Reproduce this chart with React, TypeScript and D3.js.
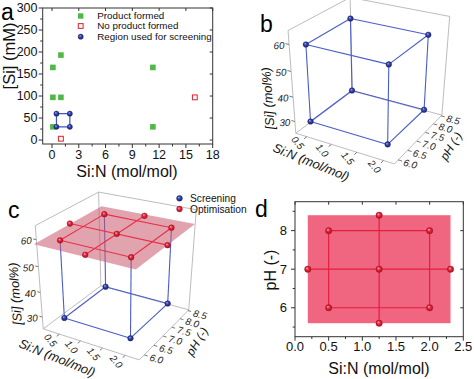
import React from 'react';
import * as d3 from 'd3';

const FONT = "'Liberation Sans', Arial, Helvetica, sans-serif";

// ---------- Panel a data ----------
const productSiN = [0.1, 0.1, 0.1, 1.0, 1.0, 11.3, 11.3];
const productSi = [165, 97, 30, 193, 97, 165, 30];
const noProductSiN = [1.0, 16.0];
const noProductSi = [3, 97];
const regionSiN = [0.5, 2.0, 2.0, 0.5];
const regionSi = [30, 30, 60, 60];
const aXTicks = [0, 3, 6, 9, 12, 15, 18];
const aYTicks = [0, 50, 100, 150, 200, 250, 300];
const legendA = ['Product formed', 'No product formed', 'Region used for screening'];

// ---------- Screening cube (b, c) ----------
const screenSiN = [0.5, 2.0];
const screenPH = [6, 8];
const screenSi = [30, 60];

// ---------- Optimisation design (c, d) ----------
const optSiN = [0.5, 2.0, 2.0, 0.5, 0.19, 2.31, 1.25, 1.25, 1.25];
const optPH = [6, 6, 8, 8, 7, 7, 5.6, 8.4, 7];
const optSiLevel = 60;
const planeSiN = [0.19, 2.31];
const planePH = [5.5, 8.5];

const siNTicks3D = [0.5, 1.0, 1.5, 2.0];
const pHTicks3D = [6.0, 6.5, 7.0, 7.5, 8.0, 8.5];
const siTicks3D = [30, 40, 50, 60];

const dXTicks = [0, 0.5, 1.0, 1.5, 2.0, 2.5];
const dYTicks = [6, 7, 8];
const legendC = ['Screening', 'Optimisation'];

type V2 = [number, number];
interface Cam { o: V2; eu: V2; ev: V2; ew: V2; box: { siN: number[]; pH: number[]; si: number[] } }
const PERSP = [0.059, -0.096, 0.075];

const camB: Cam = { o: [309.4, 122.3], eu: [77.5, 19.6], ev: [40.5, -30.3], ew: [-0.2, -76], box: { siN: [0.27, 2.2], pH: [5.8, 8.55], si: [25, 65] } };
const camC: Cam = { o: [63.35, 318.8], eu: [66.6, 16.9], ev: [40.75, -30.4], ew: [-0.25, -76.75], box: { siN: [0.1, 2.3], pH: [5.75, 8.55], si: [25, 65] } };

function makeProj(cam: Cam) {
  const su = d3.scaleLinear().domain(screenSiN).range([0, 1]);
  const sv = d3.scaleLinear().domain(screenPH).range([0, 1]);
  const sw = d3.scaleLinear().domain(screenSi).range([0, 1]);
  const cx = cam.o[0] + 0.5 * (cam.eu[0] + cam.ev[0] + cam.ew[0]);
  const cy = cam.o[1] + 0.5 * (cam.eu[1] + cam.ev[1] + cam.ew[1]);
  return (a: number, b: number, c: number): V2 => {
    const u = su(a), v = sv(b), w = sw(c);
    const x = cam.o[0] + u * cam.eu[0] + v * cam.ev[0] + w * cam.ew[0];
    const y = cam.o[1] + u * cam.eu[1] + v * cam.ev[1] + w * cam.ew[1];
    const s = 1 + PERSP[0] * (u - 0.5) + PERSP[1] * (v - 0.5) + PERSP[2] * (w - 0.5);
    return [cx + s * (x - cx), cy + s * (y - cy)];
  };
}

const Sphere = ({ p, r, color }: { p: V2; r: number; color: 'blue' | 'red' }) => (
  <circle cx={p[0]} cy={p[1]} r={r} fill={`url(#sph-${color})`} stroke={color === 'blue' ? '#1c2468' : '#a8142a'} strokeWidth={0.4} />
);

const Seg = ({ a, b, stroke, w = 1 }: { a: V2; b: V2; stroke: string; w?: number }) => (
  <line x1={a[0]} y1={a[1]} x2={b[0]} y2={b[1]} stroke={stroke} strokeWidth={w} />
);

function Axes3D({ proj, box }: { proj: (a: number, b: number, c: number) => V2; box: Cam['box'] }) {
  const [s0, s1] = box.siN, [p0, p1] = box.pH, [z0, z1] = box.si;
  const P = (i: number, j: number, k: number) => proj(i ? s1 : s0, j ? p1 : p0, k ? z1 : z0);
  const edges = [
    [0, 0, 0, 1, 0, 0], [1, 0, 0, 1, 1, 0], [1, 1, 0, 0, 1, 0], [0, 1, 0, 0, 0, 0],
    [0, 0, 0, 0, 0, 1], [0, 0, 1, 0, 1, 1], [0, 1, 1, 0, 1, 0],
    [0, 1, 1, 1, 1, 1], [1, 1, 1, 1, 1, 0],
  ];
  const grey = '#b4b4b4';
  const tstyle = { fontFamily: FONT, fontSize: 9.8, fontStyle: 'italic' as const, fill: '#222' };
  const tt = { fontFamily: FONT, fontSize: 12.8, fontStyle: 'italic' as const, fill: '#111' };
  const midS = proj((s0 + s1) / 2, p0, z0);
  const midP = proj(s1, (p0 + p1) / 2, z0);
  const midZ = proj(s0, p0, (z0 + z1) / 2);
  return (
    <g>
      {edges.map((e, i) => <Seg key={i} a={P(e[0], e[1], e[2])} b={P(e[3], e[4], e[5])} stroke={grey} w={0.9} />)}
      {siNTicks3D.map((t) => {
        const a = proj(t, p0, z0), b = proj(t, p0 - 0.12, z0);
        return (
          <g key={'s' + t}>
            <Seg a={a} b={b} stroke="#555" w={0.8} />
            <text transform={`translate(${a[0] - 9},${a[1] + 6}) rotate(50)`} textAnchor="middle" dy="0.35em" style={tstyle}>{t.toFixed(1)}</text>
          </g>
        );
      })}
      {pHTicks3D.map((t) => {
        const a = proj(s1, t, z0), b = proj(s1 + 0.07, t, z0);
        return (
          <g key={'p' + t}>
            <Seg a={a} b={b} stroke="#555" w={0.8} />
            <text transform={`translate(${a[0] + 12},${a[1] + 4}) rotate(15)`} textAnchor="middle" dy="0.35em" style={tstyle}>{t.toFixed(1)}</text>
          </g>
        );
      })}
      {siTicks3D.map((t) => {
        const base = proj(s0, p0, t);
        const b = proj(s0 - 0.07, p0, t);
        return (
          <g key={'z' + t}>
            <Seg a={base} b={b} stroke="#555" w={0.8} />
            <text transform={`translate(${base[0] - 10},${base[1] + 1}) rotate(-4)`} textAnchor="middle" dy="0.35em" style={tstyle}>{t}</text>
          </g>
        );
      })}
      <text transform={`translate(${midS[0] - 32},${midS[1] + 14}) rotate(22)`} textAnchor="middle" dy="0.35em" style={tt}>Si:N (mol/mol)</text>
      <text transform={`translate(${midP[0] + 31},${midP[1] + 8}) rotate(-58)`} textAnchor="middle" dy="0.35em" style={{ ...tt, fontSize: 12 }}>pH (-)</text>
      <text transform={`translate(${midZ[0] - 24},${midZ[1] + 14}) rotate(-94)`} textAnchor="middle" dy="0.35em" style={tt}>[Si] (mol%)</text>
    </g>
  );
}

function cubeCorners(xs: number[], ys: number[], zs: number[]) {
  const out: number[][] = [];
  for (const x of xs) for (const y of ys) for (const z of zs) out.push([x, y, z]);
  return out;
}
function cubeEdges(xs: number[], ys: number[], zs: number[]) {
  const c = cubeCorners(xs, ys, zs);
  const e: number[][][] = [];
  for (let i = 0; i < c.length; i++)
    for (let j = i + 1; j < c.length; j++) {
      let d = 0;
      for (let k = 0; k < 3; k++) if (c[i][k] !== c[j][k]) d++;
      if (d === 1) e.push([c[i], c[j]]);
    }
  return e;
}

function PanelA() {
  const x = d3.scaleLinear().domain([-1.04, 18]).range([42.7, 212.7]);
  const y = d3.scaleLinear().domain([-9, 300]).range([144, 8]);
  const tick = { fontFamily: FONT, fontSize: 12.5, fill: '#111' };
  const xMinor = d3.range(1.5, 18, 3);
  const yMinor = d3.range(25, 300, 50);
  const regionPts = regionSiN.map((s, i) => [x(s), y(regionSi[i])] as V2);
  const poly = d3.line()([...regionPts, regionPts[0]]);
  return (
    <g>
      <rect x={42.7} y={8} width={170} height={136} fill="none" stroke="#333" strokeWidth={1} />
      {aXTicks.map((t) => (
        <g key={t}>
          <line x1={x(t)} x2={x(t)} y1={144} y2={148} stroke="#333" />
          <line x1={x(t)} x2={x(t)} y1={8} y2={11} stroke="#333" />
          <text x={x(t)} y={159.2} textAnchor="middle" style={tick}>{t}</text>
        </g>
      ))}
      {xMinor.map((t) => <line key={t} x1={x(t)} x2={x(t)} y1={144} y2={146.5} stroke="#333" />)}
      {aYTicks.map((t) => (
        <g key={t}>
          <line x1={38.7} x2={42.7} y1={y(t)} y2={y(t)} stroke="#333" />
          <line x1={209.7} x2={212.7} y1={y(t)} y2={y(t)} stroke="#333" />
          <text x={37.5} y={y(t)} dy="0.35em" textAnchor="end" style={tick}>{t}</text>
        </g>
      ))}
      {yMinor.map((t) => <line key={t} x1={40.2} x2={42.7} y1={y(t)} y2={y(t)} stroke="#333" />)}
      <text x={127} y={177} textAnchor="middle" style={{ fontFamily: FONT, fontSize: 16, fill: '#111' }}>Si:N (mol/mol)</text>
      <text transform="translate(9.5,56) rotate(-90)" textAnchor="middle" dy="0.35em" style={{ fontFamily: FONT, fontSize: 16.5, fill: '#111' }}>[Si] (mM)</text>
      {productSiN.map((s, i) => (
        <rect key={i} x={x(s) - 2.8} y={y(productSi[i]) - 2.8} width={5.6} height={5.6} fill="#4fb848" />
      ))}
      {noProductSiN.map((s, i) => (
        <rect key={i} x={x(s) - 2.4} y={y(noProductSi[i]) - 2.4} width={4.8} height={4.8} fill="#fff" stroke="#e0303c" strokeWidth={1.1} />
      ))}
      <path d={poly || ''} fill="none" stroke="#3d55c4" strokeWidth={1.2} />
      {regionPts.map((p, i) => <Sphere key={i} p={p} r={2.6} color="blue" />)}
      <rect x={78} y={13.3} width={5.4} height={5.4} fill="#4fb848" />
      <rect x={78.3} y={23.6} width={4.8} height={4.8} fill="#fff" stroke="#e0303c" strokeWidth={1.1} />
      <Sphere p={[80.7, 36.7]} r={2.6} color="blue" />
      {legendA.map((l, i) => (
        <text key={l} x={97.3} y={[16, 26, 36.7][i]} dy="0.35em" style={{ fontFamily: FONT, fontSize: 9.8, fill: '#111' }}>{l}</text>
      ))}
    </g>
  );
}

function PanelB() {
  const proj = makeProj(camB);
  const edges = cubeEdges(screenSiN, screenPH, screenSi);
  const corners = cubeCorners(screenSiN, screenPH, screenSi);
  return (
    <g>
      <Axes3D proj={proj} box={camB.box} />
      {edges.map((e, i) => <Seg key={i} a={proj(e[0][0], e[0][1], e[0][2])} b={proj(e[1][0], e[1][1], e[1][2])} stroke="#4a5cc8" w={1.1} />)}
      {corners.map((c, i) => <Sphere key={i} p={proj(c[0], c[1], c[2])} r={2.8} color="blue" />)}
    </g>
  );
}

function PanelC() {
  const proj = makeProj(camC);
  const base = cubeCorners(screenSiN, screenPH, [screenSi[0]]);
  const baseEdges = cubeEdges(screenSiN, screenPH, [screenSi[0]]);
  const topRect = cubeEdges(screenSiN, screenPH, [optSiLevel]);
  const plane = [
    proj(planeSiN[0], planePH[0], optSiLevel), proj(planeSiN[1], planePH[0], optSiLevel),
    proj(planeSiN[1], planePH[1], optSiLevel), proj(planeSiN[0], planePH[1], optSiLevel),
  ];
  const ph7 = optSiN.filter((_, i) => optPH[i] === 7);
  const sn125 = optPH.filter((_, i) => optSiN[i] === 1.25);
  const crossH = d3.extent(ph7) as number[];
  const crossV = d3.extent(sn125) as number[];
  const red = '#e8304a';
  return (
    <g>
      <Axes3D proj={proj} box={camC.box} />
      {baseEdges.map((e, i) => <Seg key={i} a={proj(e[0][0], e[0][1], e[0][2])} b={proj(e[1][0], e[1][1], e[1][2])} stroke="#4a5cc8" w={1.1} />)}
      {base.map((c, i) => <Seg key={'v' + i} a={proj(c[0], c[1], c[2])} b={proj(c[0], c[1], optSiLevel)} stroke="#4a5cc8" w={1.1} />)}
      {base.map((c, i) => <Sphere key={'b' + i} p={proj(c[0], c[1], c[2])} r={2.8} color="blue" />)}
      <path d={(d3.line()([...plane, plane[0]]) || '') + 'Z'} fill="#c95a6c" fillOpacity={0.55} stroke="none" />
      {topRect.map((e, i) => <Seg key={'t' + i} a={proj(e[0][0], e[0][1], e[0][2])} b={proj(e[1][0], e[1][1], e[1][2])} stroke={red} w={1.1} />)}
      <Seg a={proj(crossH[0], 7, optSiLevel)} b={proj(crossH[1], 7, optSiLevel)} stroke={red} w={1.1} />
      <Seg a={proj(1.25, crossV[0], optSiLevel)} b={proj(1.25, crossV[1], optSiLevel)} stroke={red} w={1.1} />
      {optSiN.map((s, i) => <Sphere key={'o' + i} p={proj(s, optPH[i], optSiLevel)} r={2.9} color="red" />)}
      <Sphere p={[179.5, 198.3]} r={2.9} color="blue" />
      <Sphere p={[179.5, 209]} r={2.9} color="red" />
      {legendC.map((l, i) => (
        <text key={l} x={190} y={[198.3, 209][i]} dy="0.35em" style={{ fontFamily: FONT, fontSize: 10.2, fill: '#111' }}>{l}</text>
      ))}
    </g>
  );
}

function PanelD() {
  const x = d3.scaleLinear().domain([0, 2.5]).range([295, 463.3]);
  const y = d3.scaleLinear().domain([5.25, 8.75]).range([336.7, 201.7]);
  const tick = { fontFamily: FONT, fontSize: 13, fill: '#111' };
  const [sMin, sMax] = d3.extent(optSiN) as number[];
  const [pMin, pMax] = d3.extent(optPH) as number[];
  const red = '#e41e3c';
  const rectC = cubeEdges(screenSiN, screenPH, [0]);
  const ph7 = optSiN.filter((_, i) => optPH[i] === 7);
  const sn125 = optPH.filter((_, i) => optSiN[i] === 1.25);
  const crossH = d3.extent(ph7) as number[];
  const crossV = d3.extent(sn125) as number[];
  const xMinor = d3.range(0.25, 2.5, 0.5);
  const yMinor = d3.range(5.5, 8.75, 1);
  return (
    <g>
      <rect x={x(sMin)} y={y(pMax)} width={x(sMax) - x(sMin)} height={y(pMin) - y(pMax)} fill="#f06680" />
      {rectC.map((e, i) => <Seg key={i} a={[x(e[0][0]), y(e[0][1])]} b={[x(e[1][0]), y(e[1][1])]} stroke={red} w={1.2} />)}
      <Seg a={[x(crossH[0]), y(7)]} b={[x(crossH[1]), y(7)]} stroke={red} w={1.2} />
      <Seg a={[x(1.25), y(crossV[0])]} b={[x(1.25), y(crossV[1])]} stroke={red} w={1.2} />
      {optSiN.map((s, i) => <Sphere key={i} p={[x(s), y(optPH[i])]} r={3.2} color="red" />)}
      <rect x={295} y={201.7} width={168.3} height={135} fill="none" stroke="#333" strokeWidth={1} />
      {dXTicks.map((t) => (
        <g key={t}>
          <line x1={x(t)} x2={x(t)} y1={336.7} y2={340.7} stroke="#333" />
          <line x1={x(t)} x2={x(t)} y1={201.7} y2={204.7} stroke="#333" />
          <text x={x(t)} y={351} textAnchor="middle" style={tick}>{t.toFixed(1)}</text>
        </g>
      ))}
      {xMinor.map((t) => <line key={t} x1={x(t)} x2={x(t)} y1={336.7} y2={339} stroke="#333" />)}
      {dYTicks.map((t) => (
        <g key={t}>
          <line x1={291} x2={295} y1={y(t)} y2={y(t)} stroke="#333" />
          <line x1={460.3} x2={463.3} y1={y(t)} y2={y(t)} stroke="#333" />
          <text x={287} y={y(t)} dy="0.35em" textAnchor="end" style={tick}>{t}</text>
        </g>
      ))}
      {yMinor.map((t) => <line key={t} x1={292.7} x2={295} y1={y(t)} y2={y(t)} stroke="#333" />)}
      <text x={379} y={374} textAnchor="middle" style={{ fontFamily: FONT, fontSize: 16, fill: '#111' }}>Si:N (mol/mol)</text>
      <text transform="translate(270,270) rotate(-90)" textAnchor="middle" dy="0.35em" style={{ fontFamily: FONT, fontSize: 16, fill: '#111' }}>pH (-)</text>
    </g>
  );
}

export default function App() {
  const lab = { fontFamily: FONT, fontSize: 23, fill: '#000' };
  return (
    <svg width={474} height={379} viewBox="0 0 474 379" style={{ position: 'absolute', left: 0, top: 0, background: '#fff' }}>
      <defs>
        <radialGradient id="sph-blue" cx="0.5" cy="0.5" r="0.5" fx="0.35" fy="0.32">
          <stop offset="0%" stopColor="#a8b4f4" />
          <stop offset="45%" stopColor="#3848b4" />
          <stop offset="100%" stopColor="#18206a" />
        </radialGradient>
        <radialGradient id="sph-red" cx="0.5" cy="0.5" r="0.5" fx="0.35" fy="0.32">
          <stop offset="0%" stopColor="#ffb4bc" />
          <stop offset="45%" stopColor="#ea2a42" />
          <stop offset="100%" stopColor="#a8101e" />
        </radialGradient>
      </defs>
      <rect width={474} height={379} fill="#fff" />
      <PanelA />
      <PanelB />
      <PanelC />
      <PanelD />
      <text x={1} y={19.5} style={lab}>a</text>
      <text x={260} y={31.5} style={lab}>b</text>
      <text x={8} y={218.3} style={lab}>c</text>
      <text x={255} y={216.7} style={lab}>d</text>
    </svg>
  );
}
